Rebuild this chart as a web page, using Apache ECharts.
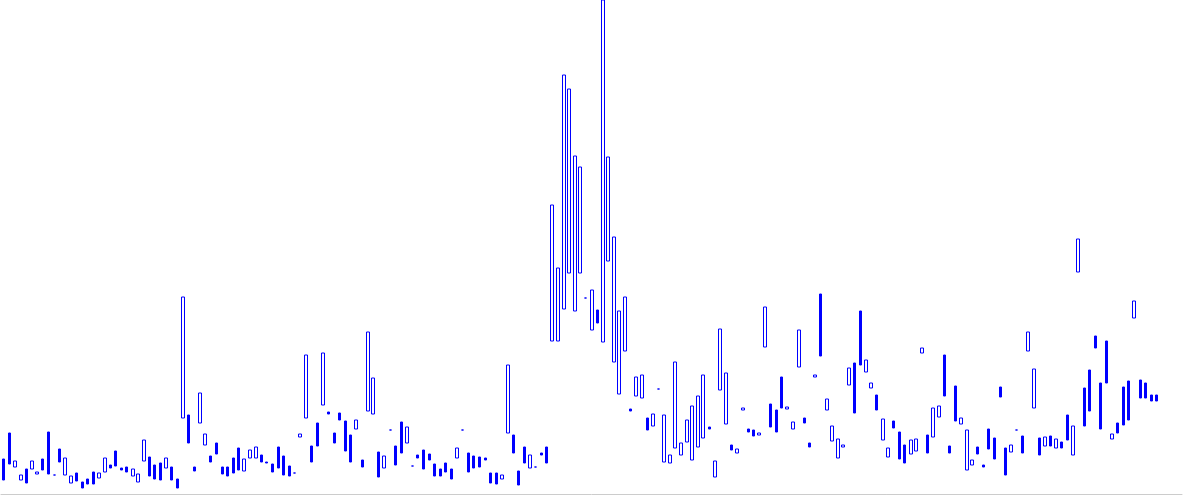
<!DOCTYPE html>
<html>
<head>
<meta charset="utf-8">
<script src="https://cdn.jsdelivr.net/npm/echarts@6/dist/echarts.min.js"></script>
<style>
html,body{margin:0;padding:0;background:#fff;}
#chart{width:1185px;height:495px;}
</style>
</head>
<body>
<div id="chart"></div>
<script>
// Number of category slots on the x axis (last few slots carry no candle)
const slotCount = 211;
const categories = [];
for (let i = 1; i <= slotCount; i++) categories.push(String(i));

// Open values, one per candle
const opens = [
  3.5,6.1,2.7,1.4,2.5,2.5,2.0,3.5,6.2,1.9,
  4.5,1.9,1.1,2.1,1.2,1.5,2.2,1.6,2.2,2.9,
  4.3,2.6,2.7,1.8,1.2,3.3,3.7,2.9,3.1,2.6,
  2.7,1.5,7.6,7.9,2.7,7.1,4.9,3.8,5.1,2.7,
  2.7,3.6,4.6,2.3,3.6,3.6,3.9,3.2,3.0,4.7,
  3.8,2.8,2.1,5.7,7.6,4.8,7.1,8.9,8.2,6.1,
  8.1,7.3,5.9,6.5,3.4,8.3,8.0,4.2,2.6,6.4,
  4.8,7.2,5.1,2.8,3.9,4.4,4.0,3.0,2.5,3.1,
  2.5,3.6,6.4,4.1,3.8,3.7,3.6,2.1,2.1,1.5,
  6.1,5.9,2.3,4.7,2.6,2.7,4.1,4.7,15.3,15.3,
  18.5,22.1,18.3,22.1,19.6,16.4,18.4,15.2,23.3,13.2,
  10.0,14.3,8.5,9.8,9.6,7.6,6.8,10.5,3.2,3.1,
  4.6,3.9,5.2,3.4,4.7,5.6,6.7,1.7,10.4,7.0,
  4.9,4.1,8.4,6.5,6.4,5.9,14.7,9.0,8.4,11.7,
  8.5,6.5,12.7,7.6,5.1,11.7,20.0,8.4,5.3,3.6,
  4.7,10.9,13.1,18.3,12.2,10.6,9.9,5.4,3.7,7.3,
  6.2,4.9,4.0,4.3,14.1,5.9,5.7,7.7,13.9,4.8,
  10.8,7.0,2.4,2.9,4.7,2.9,6.5,5.6,10.7,4.6,
  4.2,6.4,5.8,14.3,8.6,5.6,4.8,5.8,4.6,5.2,
  7.9,3.9,22.2,10.6,12.4,15.8,11.1,15.3,5.5,7.1,
  10.7,11.3,17.6,11.4,11.1,9.9,9.9
];

// Close values, one per candle
const closes = [
  1.4,3.0,3.3,1.9,1.1,3.3,2.2,2.4,2.0,1.9,
  3.2,3.6,1.8,1.3,0.6,1.0,1.0,2.1,3.6,2.6,
  2.8,2.4,2.2,2.5,2.0,5.4,1.8,1.5,1.4,3.6,
  1.4,0.6,19.7,5.1,2.3,10.1,6.0,3.2,4.0,2.0,
  1.8,2.1,2.4,3.5,4.4,4.7,3.2,3.1,2.2,2.6,
  1.9,1.8,2.1,6.0,13.9,3.2,4.8,14.1,8.0,5.1,
  7.4,4.3,3.2,7.4,2.7,16.2,11.6,1.7,3.8,6.4,
  2.9,4.1,6.7,2.8,3.6,2.5,3.4,1.8,1.8,2.2,
  1.5,4.6,6.4,2.2,2.6,2.7,3.4,1.1,1.0,1.9,
  12.9,4.1,0.9,3.1,3.9,2.7,3.9,3.1,28.9,22.6,
  41.9,40.5,33.8,32.7,19.6,20.4,17.1,49.4,33.7,25.7,
  18.3,19.7,8.3,11.7,11.9,6.4,8.0,10.5,7.9,3.9,
  13.2,5.1,7.4,8.8,9.8,11.9,6.5,3.3,16.5,12.1,
  4.4,4.5,8.6,6.2,5.8,6.1,18.7,6.7,6.2,8.6,
  8.7,7.2,16.4,7.1,4.7,11.9,13.8,9.5,6.8,5.5,
  4.9,12.6,8.1,12.9,13.4,11.1,8.4,7.5,4.6,6.6,
  3.5,3.1,5.4,5.5,14.6,4.1,8.6,8.8,9.8,4.1,
  7.3,7.6,6.4,3.4,4.0,2.7,4.5,3.5,9.7,1.9,
  4.9,6.4,4.1,16.2,12.5,3.9,5.7,4.8,5.5,4.6,
  5.4,6.8,25.5,6.8,8.3,14.6,6.5,11.1,6.0,6.1,
  6.9,7.4,19.3,9.6,9.6,9.3,9.3
];

const EMPTY = ['-', '-', '-', '-'];
// ECharts order: [open, close, lowest, highest]
const toItem = (o, c) => [o, c, Math.min(o, c), Math.max(o, c)];
// rising candles (drawn hollow)
const risingData = opens.map((o, i) => closes[i] > o ? toItem(o, closes[i]) : EMPTY);
// falling and unchanged candles (drawn filled)
const fallingData = opens.map((o, i) => closes[i] <= o ? toItem(o, closes[i]) : EMPTY);

const BLUE = '#0000ff';
const chart = echarts.init(document.getElementById('chart'), null, {renderer: 'canvas'});
chart.setOption({
  animation: false,
  backgroundColor: '#ffffff',
  grid: {left: 1, right: 3, top: 0, bottom: 1, containLabel: false},
  xAxis: {
    type: 'category',
    data: categories,
    boundaryGap: true,
    axisLine: {show: true, lineStyle: {color: '#cccccc', width: 1}},
    axisTick: {show: false},
    axisLabel: {show: false},
    splitLine: {show: false}
  },
  yAxis: {
    type: 'value',
    min: 0,
    max: 49.4,
    show: false,
    splitLine: {show: false}
  },
  series: [{
    name: 'rising',
    type: 'candlestick',
    data: risingData,
    barWidth: 3.5,
    itemStyle: {
      color: '#ffffff', color0: '#ffffff',
      borderColor: BLUE, borderColor0: BLUE,
      borderWidth: 1
    }
  }, {
    name: 'falling',
    type: 'candlestick',
    data: fallingData,
    barWidth: 2.5,
    itemStyle: {
      color: BLUE, color0: BLUE,
      borderColor: BLUE, borderColor0: BLUE,
      borderWidth: 1
    }
  }]
});
</script>
</body>
</html>
